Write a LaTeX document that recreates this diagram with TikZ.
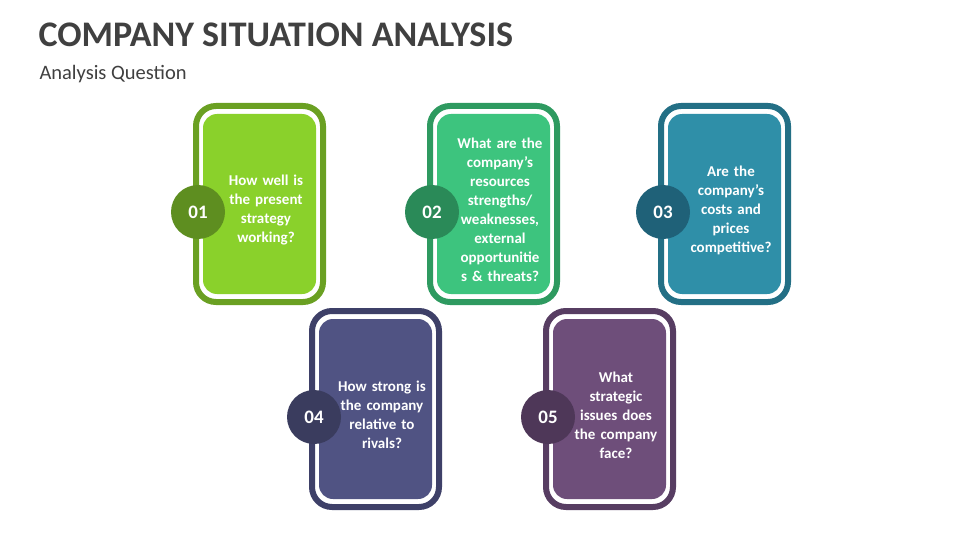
\documentclass[tikz,border=0pt]{standalone}
\usepackage{fontspec}
\setmainfont{Carlito}
\begin{document}
\begin{tikzpicture}[x=1pt,y=-1pt,
  frame/.style={line width=6pt,rounded corners=20pt},
  inner/.style={rounded corners=14pt},
  num/.style={circle,minimum size=54pt,inner sep=0pt,text=white,font=\bfseries\fontsize{19}{19}\selectfont},
  txt/.style={text=white,align=center,text width=95pt,font=\bfseries\fontsize{15}{19}\selectfont}]
\useasboundingbox[fill=white] (0,0) rectangle (960,540);
\node[anchor=west,text=black!75,font=\bfseries\fontsize{36}{36}\selectfont] (title) at (35,35) {COMPANY SITUATION ANALYSIS};
\node[anchor=west,text=black!75,font=\fontsize{20.5}{20.5}\selectfont] (sub) at (36,74) {Analysis Question};
\newcommand\card[8]{%
 \draw[frame,draw=#6] (#1,#2) rectangle ++(127,196);
 \fill[inner,#5] (#1+7,#2+8) rectangle ++(113,180);
 \node[num,fill=#7] (n#8) at (#1+2,#2+106) {#3};
 \node[txt] (t#8) at (#1+70,#2+104) {#4};
}
\definecolor{g1}{HTML}{8AD12B}\definecolor{g1f}{HTML}{6AA022}\definecolor{g1c}{HTML}{5E8E20}
\definecolor{g2}{HTML}{3DC47E}\definecolor{g2f}{HTML}{2E9A60}\definecolor{g2c}{HTML}{2A8A58}
\definecolor{g3}{HTML}{2F8FA8}\definecolor{g3f}{HTML}{236F85}\definecolor{g3c}{HTML}{1F6178}
\definecolor{g4}{HTML}{505383}\definecolor{g4f}{HTML}{3E4068}\definecolor{g4c}{HTML}{3A3C5E}
\definecolor{g5}{HTML}{6E4E7A}\definecolor{g5f}{HTML}{573D62}\definecolor{g5c}{HTML}{4E3758}
\card{196}{106}{01}{How well is\\the present\\strategy\\working?}{g1}{g1f}{g1c}{a}
\card{430}{106}{02}{What are the\\company’s\\resources\\strengths/\\weaknesses,\\external\\opportunitie\\s \& threats?}{g2}{g2f}{g2c}{b}
\card{661}{106}{03}{Are the\\company’s\\costs and\\prices\\competitive?}{g3}{g3f}{g3c}{c}
\card{312}{311}{04}{How strong is\\the company\\relative to\\rivals?}{g4}{g4f}{g4c}{d}
\card{546}{311}{05}{What\\strategic\\issues does\\the company\\face?}{g5}{g5f}{g5c}{e}
\end{tikzpicture}
\end{document}
